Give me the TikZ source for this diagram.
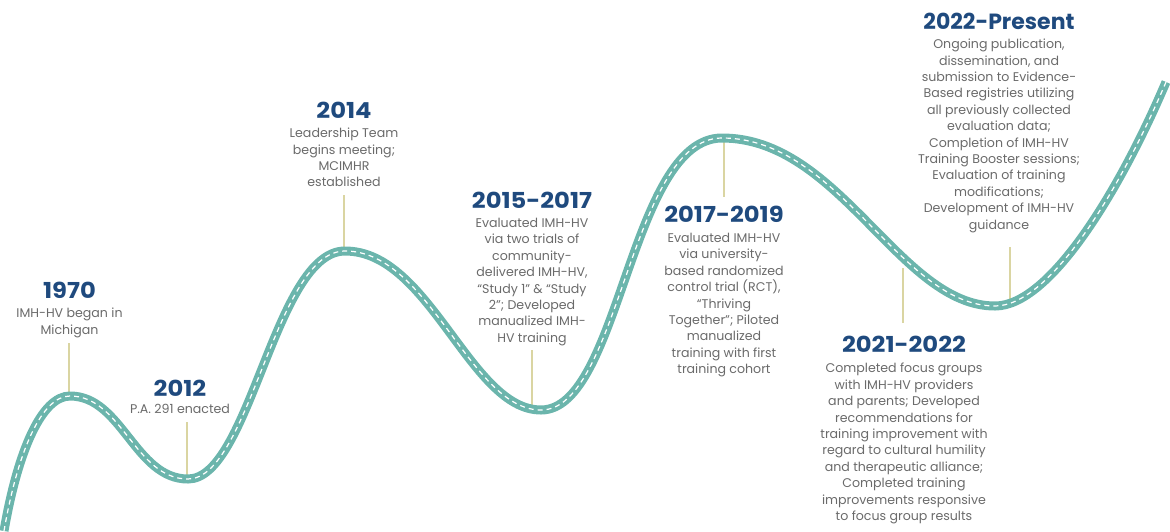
\documentclass[tikz,border=0pt]{standalone}
\usepackage{fontspec}
\setmainfont{Poppins}
\newfontfamily\titlefont{Poppins}[FakeStretch=1.1]
\newfontfamily\titlefontn{Poppins}[FakeStretch=1.0]
\definecolor{road}{HTML}{6BB5AC}
\definecolor{ttl}{HTML}{1F4A7E}
\definecolor{bodyc}{HTML}{6A6A6A}
\definecolor{tick}{HTML}{DAD5A2}
\begin{document}
\begin{tikzpicture}[x=1pt,y=-1pt,
  ttlstyle/.style={inner sep=0pt,font=\titlefont\bfseries\fontsize{22}{24}\selectfont,text=ttl},
  ttlnarrow/.style={inner sep=0pt,font=\titlefontn\bfseries\fontsize{22}{24}\selectfont,text=ttl},
  bodystyle/.style={inner sep=0pt,anchor=north,align=center,font=\fontsize{12.6}{16.4}\selectfont,text=bodyc},
  tickline/.style={draw=tick,line width=1.2pt}]
\path[use as bounding box] (0,0) rectangle (1170,531);
% curve anchor coordinates
\coordinate (s) at (4,531);
\coordinate (p1) at (70,396);
\coordinate (v1) at (188,479);
\coordinate (p2) at (345,251);
\coordinate (v2) at (541,410);
\coordinate (p3) at (722,138);
\coordinate (v3) at (995,306);
\coordinate (e) at (1166,82);
% tick ends
\coordinate (k1) at (69,396);
\coordinate (k2) at (187,479);
\coordinate (k3) at (344,251);
\coordinate (k4) at (532,407);
\coordinate (k5) at (724,139);
\coordinate (k6) at (903,268);
\coordinate (k7) at (1010,301);
% labels
\node[ttlstyle] (t1) at (69.5,290) {1970};
\node[bodystyle] (b1) at (69.5,308) {IMH-HV began in\\Michigan};
\node[ttlstyle] (t2) at (180,388) {2012};
\node[bodystyle] (b2) at (180,404) {P.A. 291 enacted};
\node[ttlstyle] (t3) at (344,110) {2014};
\node[bodystyle] (b3) at (344,128) {Leadership Team\\begins meeting;\\MCIMHR\\established};
\node[ttlstyle] (t4) at (532,200) {2015-2017};
\node[bodystyle] (b4) at (532,218) {Evaluated IMH-HV\\via two trials of\\community-\\delivered IMH-HV,\\“Study 1” \& “Study\\2”; Developed\\manualized IMH-\\HV training};
\node[ttlstyle] (t5) at (724,214) {2017-2019};
\node[bodystyle] (b5) at (724,233) {Evaluated IMH-HV\\via university-\\based randomized\\control trial (RCT),\\“Thriving\\Together”; Piloted\\manualized\\training with first\\training cohort};
\node[ttlstyle] (t6) at (904,344) {2021-2022};
\node[bodystyle] (b6) at (904,363) {Completed focus groups\\with IMH-HV providers\\and parents; Developed\\recommendations for\\training improvement with\\regard to cultural humility\\and therapeutic alliance;\\Completed training\\improvements responsive\\to focus group results};
\node[ttlnarrow] (t7) at (999,21) {2022-Present};
\node[bodystyle] (b7) at (999,39) {Ongoing publication,\\dissemination, and\\submission to Evidence-\\Based registries utilizing\\all previously collected\\evaluation data;\\Completion of IMH-HV\\Training Booster sessions;\\Evaluation of training\\modifications;\\Development of IMH-HV\\guidance};
% ticks
\draw[tickline] (69,343) -- (k1);
\draw[tickline] (187,422) -- (k2);
\draw[tickline] (344,195) -- (k3);
\draw[tickline] (532,350) -- (k4);
\draw[tickline] (k5) -- (724,197);
\draw[tickline] (k6) -- (903,323);
\draw[tickline] (1010,247) -- (k7);
% road
\def\roadpath{(s) .. controls (18,450) and (42,396) .. (p1)
  .. controls (122,396) and (135,479) .. (v1)
  .. controls (250,479) and (275,251) .. (p2)
  .. controls (430,251) and (470,410) .. (v2)
  .. controls (620,410) and (630,138) .. (p3)
  .. controls (840,138) and (900,306) .. (v3)
  .. controls (1050,306) and (1120,190) .. (e)}
\draw[road,line width=9pt] \roadpath;
\draw[white,line width=1.2pt,dash pattern=on 5pt off 4pt] \roadpath;
\end{tikzpicture}
\end{document}
